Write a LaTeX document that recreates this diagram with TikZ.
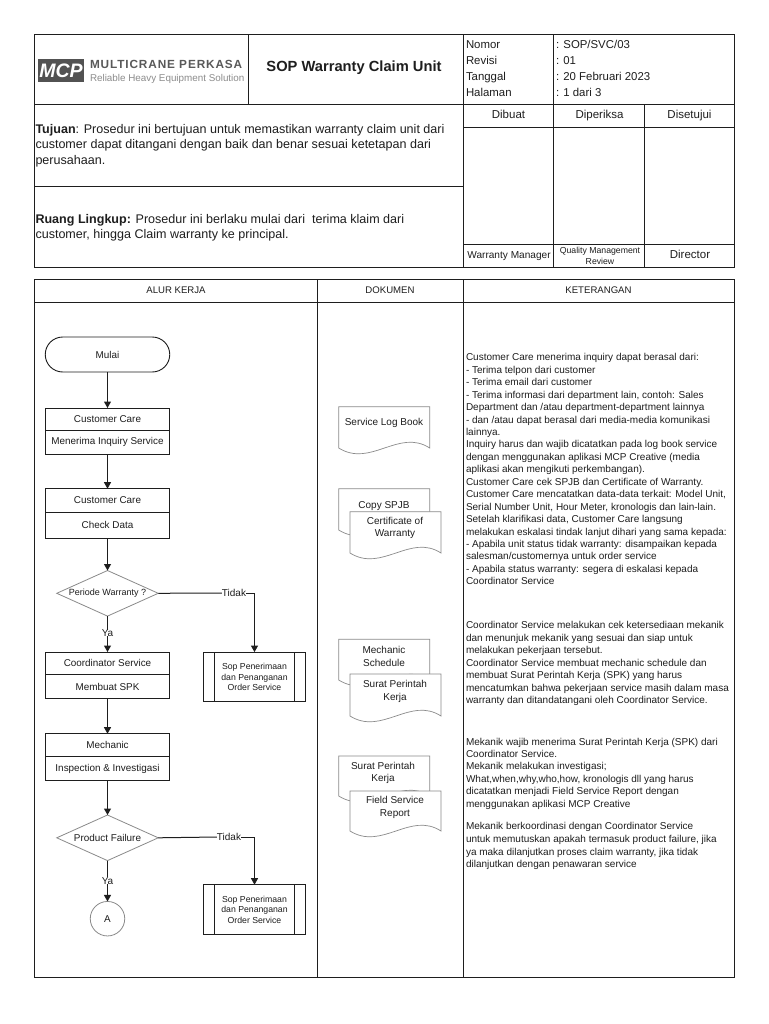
\documentclass[tikz,border=0pt]{standalone}
\usepackage{fontspec}
\setmainfont{Liberation Sans}
\usetikzlibrary{arrows.meta,shapes.geometric,shapes.misc}
\definecolor{ink}{HTML}{1E1E1E}
\definecolor{soft}{HTML}{8A8A8A}
\newcommand{\fs}[2]{\fontsize{#1pt}{#2pt}\selectfont}
\newcommand{\docshape}[7]{%
  \draw[docline] (#2,#3) -- (#2+91,#3) -- (#2+91,#4-1)
    .. controls (#2+60,#4-21) and (#2+32,#4+19) .. (#2,#4-1) -- cycle;
  \node[doctext] (#1) at (#5,#6) {#7};}
\tikzset{
  x=1pt,y=-1pt,
  every node/.style={text=ink,inner sep=0pt,outer sep=0pt},
  tableline/.style={draw=ink,line width=0.85pt},
  docline/.style={draw=soft,line width=0.7pt,fill=white},
  doctext/.style={align=center,font=\fs{10}{12.8}},
  stepbox/.style={draw=ink,line width=0.9pt,minimum width=124.5pt,align=center,font=\fs{9.9}{12}},
  subbox/.style={draw=ink,line width=0.9pt,minimum width=102.5pt,minimum height=49.6pt,align=center,font=\fs{8.7}{10.6}},
  decide/.style={diamond,aspect=2.2,draw=soft,line width=0.8pt,minimum width=101.5pt,minimum height=45.6pt,align=center},
  flow/.style={draw=ink,line width=1pt,-{Triangle[length=6.5pt,width=7pt]}},
  plainflow/.style={draw=ink,line width=1pt},
  lab/.style={font=\fs{10}{12}},
  head/.style={font=\fs{9.6}{11}},
  para/.style={anchor=north west,align=left,font=\fs{10}{12.45}},
  meta/.style={anchor=base west,font=\fs{11.4}{13}},
  sign/.style={text height=8.5pt,text depth=2pt,font=\fs{11.5}{13}},
  big/.style={anchor=north west,align=left,font=\fs{12.55}{15.9}}
}
\begin{document}
\begin{tikzpicture}
\useasboundingbox (0,0) rectangle (768,1024);
\fill[white] (0,0) rectangle (768,1024);
% header frame
\draw[tableline] (34.5,34.5) rectangle (734,267);
\draw[tableline] (34.5,104.7) -- (734,104.7);
\draw[tableline] (248,34.5) -- (248,104.7);
\draw[tableline] (463,34.5) -- (463,267);
\draw[tableline] (34.5,186) -- (463,186);
\draw[tableline] (463,127.5) -- (734,127.5);
\draw[tableline] (463,244) -- (734,244);
\draw[tableline] (553.7,34.5) -- (553.7,267);
\draw[tableline] (644,104.7) -- (644,267);
% logo
\fill[black!68] (38,58.7) rectangle (84,81.7);
\node[anchor=center,text=white,font=\fs{19.5}{19}\bfseries\itshape] (logomark) at (61,70.3) {MCP};
\node[anchor=west,text=black!65,font=\fs{11.8}{13}\bfseries\addfontfeature{LetterSpace=7.5}] (logoname) at (90,64.8) {MULTICRANE PERKASA};
\node[anchor=west,text=black!45,font=\fs{9.85}{11}] (logotag) at (90,78.6) {Reliable Heavy Equipment Solution};
\node[font=\fs{14.7}{17}\bfseries] (title) at (354,67.5) {SOP Warranty Claim Unit};
% meta
\node[meta] (m1) at (466,48.8) {Nomor};
\node[meta] (m2) at (466,64.9) {Revisi};
\node[meta] (m3) at (466,80.7) {Tanggal};
\node[meta] (m4) at (466,96.3) {Halaman};
\node[meta] (v1) at (556,48.8) {: SOP/SVC/03};
\node[meta] (v2) at (556,64.9) {: 01};
\node[meta] (v3) at (556,80.7) {: 20 Februari 2023};
\node[meta] (v4) at (556,96.3) {: 1 dari 3};
\node[sign] (dibuat) at (508.5,115) {Dibuat};
\node[sign] (diperiksa) at (599.5,115) {Diperiksa};
\node[sign] (disetujui) at (689.5,115) {Disetujui};
\node[font=\fs{10.1}{12}] (wm) at (509,255.7) {Warranty Manager};
\node[font=\fs{8.7}{11},align=center] (qm) at (600,255.5) {Quality Management\\Review};
\node[font=\fs{11.5}{13}] (dir) at (690,254.7) {Director};
% purpose
\node[big] (tujuan) at (35.5,124) {\textbf{Tujuan}: Prosedur ini bertujuan untuk memastikan warranty claim unit dari\\customer dapat ditangani dengan baik dan benar sesuai ketetapan dari\\perusahaan.};
\node[big] (ruang) at (35.5,214) {\textbf{Ruang Lingkup:} Prosedur ini berlaku mulai dari\ \ terima klaim dari\\customer, hingga Claim warranty ke principal.};
% lower table
\draw[tableline] (34.5,279) rectangle (734,977);
\draw[tableline] (34.5,302) -- (734,302);
\draw[tableline] (317,279) -- (317,977);
\draw[tableline] (463,279) -- (463,977);
\node[head] (h1) at (176,290.5) {ALUR KERJA};
\node[head] (h2) at (390,290.5) {DOKUMEN};
\node[head] (h3) at (598.5,290.5) {KETERANGAN};
% flow
\node[rounded rectangle,draw=ink,line width=0.9pt,minimum width=124.5pt,minimum height=35pt,font=\fs{9.9}{12}] (mulai) at (107.5,354.5) {Mulai};
\node[stepbox,minimum height=22pt] (a1) at (107.5,419) {Customer Care};
\node[stepbox,minimum height=24.7pt] (a2) at (107.5,442.35) {Menerima Inquiry Service};
\node[stepbox,minimum height=23.3pt] (b1) at (107.5,500.35) {Customer Care};
\node[stepbox,minimum height=26.3pt] (b2) at (107.5,525.15) {Check Data};
\node[decide,font=\fs{9}{10}] (d1) at (107.5,593.3) {Periode Warranty ?};
\node[lab] (ya1) at (107.5,633) {Ya};
\node[lab] (no1) at (234,593) {Tidak};
\node[stepbox,minimum height=22.3pt] (c1) at (107.5,663.15) {Coordinator Service};
\node[stepbox,minimum height=24.4pt] (c2) at (107.5,686.5) {Membuat SPK};
\node[stepbox,minimum height=23pt] (e1) at (107.5,745.2) {Mechanic};
\node[stepbox,minimum height=23.6pt] (e2) at (107.5,768.5) {Inspection \& Investigasi};
\node[decide,font=\fs{9.9}{12},aspect=2.6] (d2) at (107.5,837.8) {Product Failure};
\node[lab] (ya2) at (107.5,880.7) {Ya};
\node[lab] (no2) at (229,837) {Tidak};
\node[circle,draw=soft,line width=0.8pt,minimum size=34.5pt,font=\fs{9.9}{12}] (circA) at (107.5,918.7) {A};
\node[subbox] (s1) at (254.5,676.9) {Sop Penerimaan\\dan Penanganan\\Order Service};
\node[subbox] (s2) at (254.5,909.5) {Sop Penerimaan\\dan Penanganan\\Order Service};
\foreach \s in {s1,s2}{
  \draw[plainflow] ([xshift=11pt]\s.north west) -- ([xshift=11pt]\s.south west);
  \draw[plainflow] ([xshift=-11pt]\s.north east) -- ([xshift=-11pt]\s.south east);
}
\draw[flow] (mulai.south) -- (a1.north);
\draw[flow] (a2.south) -- (b1.north);
\draw[flow] (b2.south) -- (d1.north);
\draw[plainflow] (d1.south) -- (ya1.north);
\draw[flow] (ya1.south) -- (c1.north);
\draw[plainflow] (d1.east) -- (no1.west);
\draw[flow] (no1.east) -| (s1.north);
\draw[flow] (c2.south) -- (e1.north);
\draw[flow] (e2.south) -- (d2.north);
\draw[plainflow] (d2.south) -- (ya2.north);
\draw[flow] (ya2.south) -- (circA.north);
\draw[plainflow] (d2.east) -- (no2.west);
\draw[flow] (no2.east) -| (s2.north);
% documents
\docshape{doc1}{338.7}{406.7}{449}{384}{423.3}{Service Log Book}
\docshape{doc2}{338.7}{488.7}{531}{384}{505.7}{Copy SPJB}
\docshape{doc3}{350}{511.7}{554}{395}{528}{Certificate of\\Warranty}
\docshape{doc4}{338.7}{639.3}{681}{384}{656.5}{Mechanic\\Schedule}
\docshape{doc5}{350}{674}{717}{395}{691.7}{Surat Perintah\\Kerja}
\docshape{doc6}{338.7}{756}{797}{383}{773}{Surat Perintah\\Kerja}
\docshape{doc7}{350}{791}{832}{395}{807.5}{Field Service\\Report}
% notes
\node[para] (n1) at (466,353.5) {Customer Care menerima inquiry dapat berasal dari:\\
- Terima telpon dari customer\\
- Terima email dari customer\\
- Terima informasi dari department lain, contoh: Sales\\
Department dan /atau department-department lainnya\\
- dan /atau dapat berasal dari media-media komunikasi\\
lainnya.\\
Inquiry harus dan wajib dicatatkan pada log book service\\
dengan menggunakan aplikasi MCP Creative (media\\
aplikasi akan mengikuti perkembangan).\\
Customer Care cek SPJB dan Certificate of Warranty.\\
Customer Care mencatatkan data-data terkait: Model Unit,\\
Serial Number Unit, Hour Meter, kronologis dan lain-lain.\\
Setelah klarifikasi data, Customer Care langsung\\
melakukan eskalasi tindak lanjut dihari yang sama kepada:\\
- Apabila unit status tidak warranty: disampaikan kepada\\
salesman/customernya untuk order service\\
- Apabila status warranty: segera di eskalasi kepada\\
Coordinator Service};
\node[para,font=\fs{10}{12.5}] (n2) at (466,621.3) {Coordinator Service melakukan cek ketersediaan mekanik\\
dan menunjuk mekanik yang sesuai dan siap untuk\\
melakukan pekerjaan tersebut.\\
Coordinator Service membuat mechanic schedule dan\\
membuat Surat Perintah Kerja (SPK) yang harus\\
mencatumkan bahwa pekerjaan service masih dalam masa\\
warranty dan ditandatangani oleh Coordinator Service.};
\node[para,font=\fs{10}{12.35}] (n3) at (466,738) {Mekanik wajib menerima Surat Perintah Kerja (SPK) dari\\
Coordinator Service.\\
Mekanik melakukan investigasi;\\
What,when,why,who,how, kronologis dll yang harus\\
dicatatkan menjadi Field Service Report dengan\\
menggunakan aplikasi MCP Creative};
\node[para,font=\fs{10}{12.7}] (n4) at (466,822.5) {Mekanik berkoordinasi dengan Coordinator Service\\
untuk memutuskan apakah termasuk product failure, jika\\
ya maka dilanjutkan proses claim warranty, jika tidak\\
dilanjutkan dengan penawaran service};
\end{tikzpicture}
\end{document}
